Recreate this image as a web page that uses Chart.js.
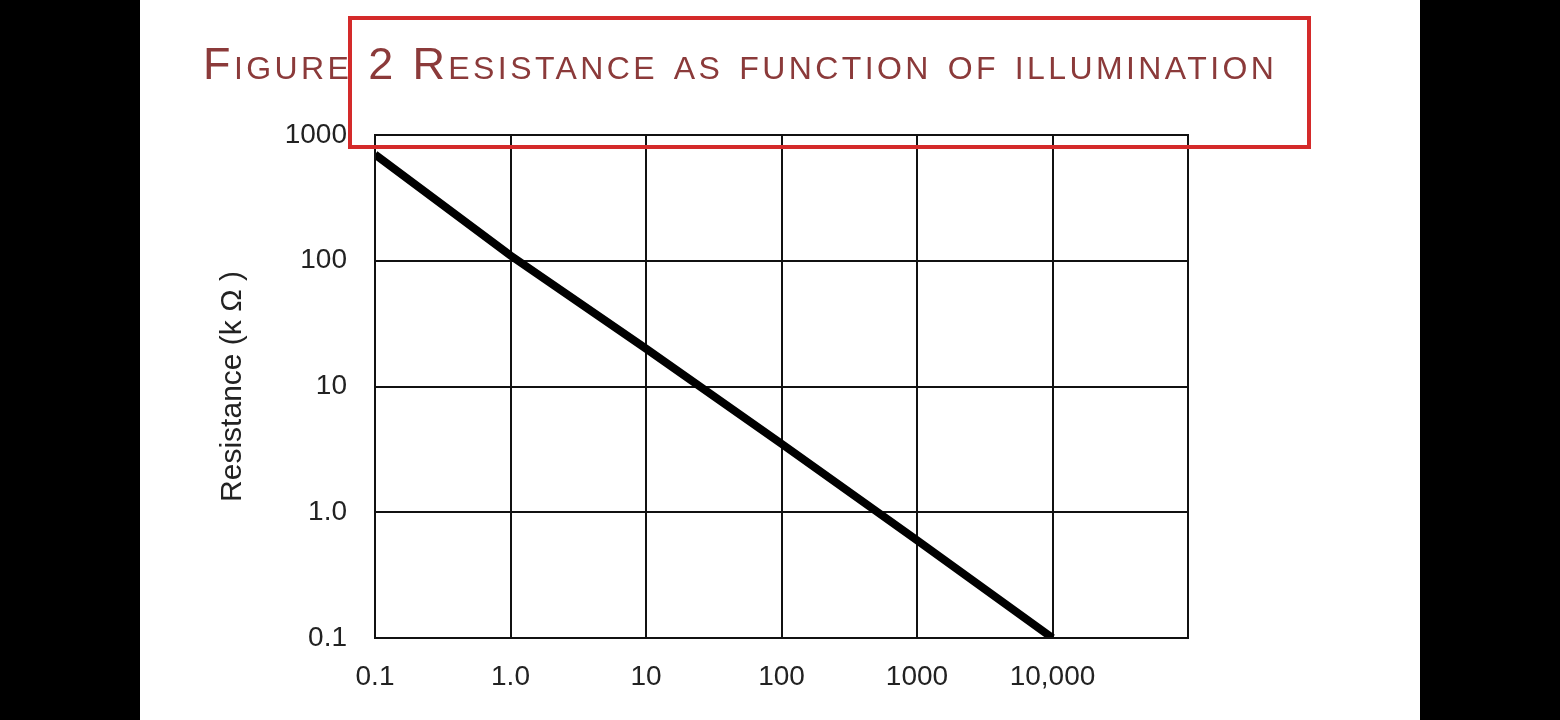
<!DOCTYPE html>
<html>
<head>
<meta charset="utf-8">
<script src="https://cdn.jsdelivr.net/npm/chart.js@4"></script>
<style>
  body { margin: 0; width: 1560px; height: 720px; background: #000; overflow: hidden; font-family: "Liberation Sans", Arial, sans-serif; }
  #panel { position: absolute; left: 140px; top: 0; width: 1280px; height: 720px; background: #fff; }
  #title { position: absolute; left: 63px; top: 38px; font-size: 45px; font-variant: small-caps; color: #8b3a3a; letter-spacing: 3.4px; white-space: nowrap; }
  #mark { position: absolute; left: 208px; top: 16px; width: 963px; height: 133px; border: 4px solid #d42a2a; box-sizing: border-box; z-index: 2; }
  #wrap { position: absolute; left: 0; top: 0; width: 1280px; height: 720px; }
</style>
</head>
<body>
<div id="panel">
  <div id="wrap"><canvas id="chart"></canvas></div>
  <div id="title">Figure 2 Resistance as function of illumination</div>
  <div id="mark"></div>
</div>
<script>
// illumination (lux) vs resistance (kOhm)
const illumination = [0.1, 1, 10, 100, 1000, 10000];
const resistance = [700, 110, 20, 3.5, 0.6, 0.1];
const xTicks = [0.1, 1, 10, 100, 1000, 10000];
const xLabels = ['0.1', '1.0', '10', '100', '1000', '10,000'];
const yTicks = [0.1, 1, 10, 100, 1000];
const yLabels = ['0.1', '1.0', '10', '100', '1000'];

const tickFont = { family: 'Liberation Sans', size: 28 };

new Chart(document.getElementById('chart'), {
    type: 'line',
    data: {
        datasets: [{
            data: illumination.map((x, i) => ({ x: x, y: resistance[i] })),
            borderColor: '#000',
            borderWidth: 8,
            pointRadius: 0,
            tension: 0
        }]
    },
    options: {
        responsive: true,
        maintainAspectRatio: false,
        animation: false,
        layout: { padding: { left: 75, right: 232, top: 135, bottom: 0 } },
        plugins: { legend: { display: false }, tooltip: { enabled: false } },
        scales: {
            x: {
                type: 'logarithmic',
                min: 0.1,
                max: 100000,
                afterBuildTicks: s => { s.ticks = xTicks.map(v => ({ value: v })); },
                afterFit: s => { s.height = 82; },
                ticks: {
                    color: '#222', font: tickFont, padding: 22, maxRotation: 0, autoSkip: false,
                    callback: (v, i) => xLabels[i]
                },
                grid: { color: '#111', lineWidth: 2, drawTicks: false },
                border: { color: '#111', width: 2 }
            },
            y: {
                type: 'logarithmic',
                min: 0.1,
                max: 1000,
                afterBuildTicks: s => { s.ticks = yTicks.map(v => ({ value: v })); },
                afterFit: s => { s.width = 160; },
                ticks: {
                    color: '#222', font: tickFont, padding: 28, autoSkip: false,
                    callback: (v, i) => yLabels[i]
                },
                title: { display: true, text: 'Resistance (k Ω )', color: '#222', font: { family: 'Liberation Sans', size: 30 }, padding: 0 },
                grid: { color: '#111', lineWidth: 2, drawTicks: false },
                border: { color: '#111', width: 2 }
            }
        }
    },
    plugins: [{
        id: 'frame',
        afterDraw: c => {
            const a = c.chartArea, ctx = c.ctx;
            ctx.save();
            ctx.strokeStyle = '#111';
            ctx.lineWidth = 2;
            ctx.strokeRect(a.left, a.top, a.right - a.left, a.bottom - a.top);
            ctx.restore();
        }
    }]
});
</script>
</body>
</html>
